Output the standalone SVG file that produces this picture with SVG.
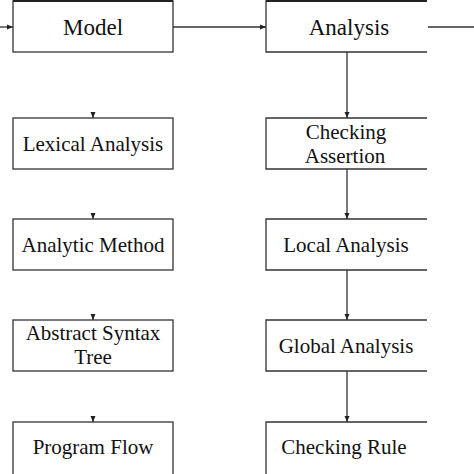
<svg xmlns="http://www.w3.org/2000/svg" width="474" height="474" viewBox="0 0 474 474">
<style>
.box{fill:#fff;stroke:#333;stroke-width:1.3}
.t{font-family:'Liberation Serif','Times New Roman',serif;font-size:21px;fill:#111;text-anchor:middle}
.big{font-size:23px}
.c{stroke:#333;stroke-width:1.3;fill:none}
</style>
<defs>
<marker id="ah" markerWidth="6" markerHeight="6" refX="6" refY="3" orient="auto" markerUnits="userSpaceOnUse">
<path d="M0,0.5 L6,3 L0,5.5 Z" fill="#222"/>
</marker>
</defs>
<rect width="474" height="474" fill="#fff"/>
<g id="connectors">
<line class="c" x1="0" y1="27" x2="13" y2="27" marker-end="url(#ah)"/>
<line class="c" x1="173" y1="27" x2="266" y2="27" marker-end="url(#ah)"/>
<line class="c" x1="428" y1="27" x2="474" y2="27"/>
<line class="c" x1="347" y1="52" x2="347" y2="118" marker-end="url(#ah)"/>
<line class="c" x1="347" y1="169" x2="347" y2="219" marker-end="url(#ah)"/>
<line class="c" x1="347" y1="270" x2="347" y2="320" marker-end="url(#ah)"/>
<line class="c" x1="347" y1="371" x2="347" y2="422" marker-end="url(#ah)"/>
<line class="c" x1="93" y1="113" x2="93" y2="118" marker-end="url(#ah)" stroke-width="0"/>
<line class="c" x1="93" y1="214" x2="93" y2="219" marker-end="url(#ah)" stroke-width="0"/>
<line class="c" x1="93" y1="315" x2="93" y2="320" marker-end="url(#ah)" stroke-width="0"/>
<line class="c" x1="93" y1="417" x2="93" y2="422" marker-end="url(#ah)" stroke-width="0"/>
</g>
<g id="model">
<rect class="box" x="13" y="1" width="160" height="51"/>
<line x1="13" y1="1" x2="173" y2="1" stroke="#222" stroke-width="2"/>
<text class="t big" x="93" y="35">Model</text>
</g>
<g id="analysis">
<path class="box" d="M427,1 H266 V52 H427"/>
<line x1="266" y1="1" x2="427" y2="1" stroke="#222" stroke-width="2"/>
<text class="t big" x="349" y="35">Analysis</text>
</g>
<g id="lexical">
<rect class="box" x="13" y="118" width="160" height="51"/>
<text class="t" x="93" y="151">Lexical Analysis</text>
</g>
<g id="analytic">
<rect class="box" x="13" y="219" width="160" height="51"/>
<text class="t" x="93" y="252">Analytic Method</text>
</g>
<g id="ast">
<rect class="box" x="13" y="320" width="160" height="51"/>
<text class="t" x="93" y="340">Abstract Syntax</text>
<text class="t" x="93" y="364">Tree</text>
</g>
<g id="programflow">
<rect class="box" x="13" y="422" width="160" height="60"/>
<text class="t" x="93" y="454">Program Flow</text>
</g>
<g id="checkingassertion">
<path class="box" d="M427,118 H266 V169 H427"/>
<text class="t" x="346" y="139">Checking</text>
<text class="t" x="345" y="163">Assertion</text>
</g>
<g id="localanalysis">
<path class="box" d="M427,219 H266 V270 H427"/>
<text class="t" x="346" y="252">Local Analysis</text>
</g>
<g id="globalanalysis">
<path class="box" d="M427,320 H266 V371 H427"/>
<text class="t" x="346" y="353">Global Analysis</text>
</g>
<g id="checkingrule">
<path class="box" d="M427,422 H266 V482"/>
<text class="t" x="344" y="454">Checking Rule</text>
</g>
</svg>
